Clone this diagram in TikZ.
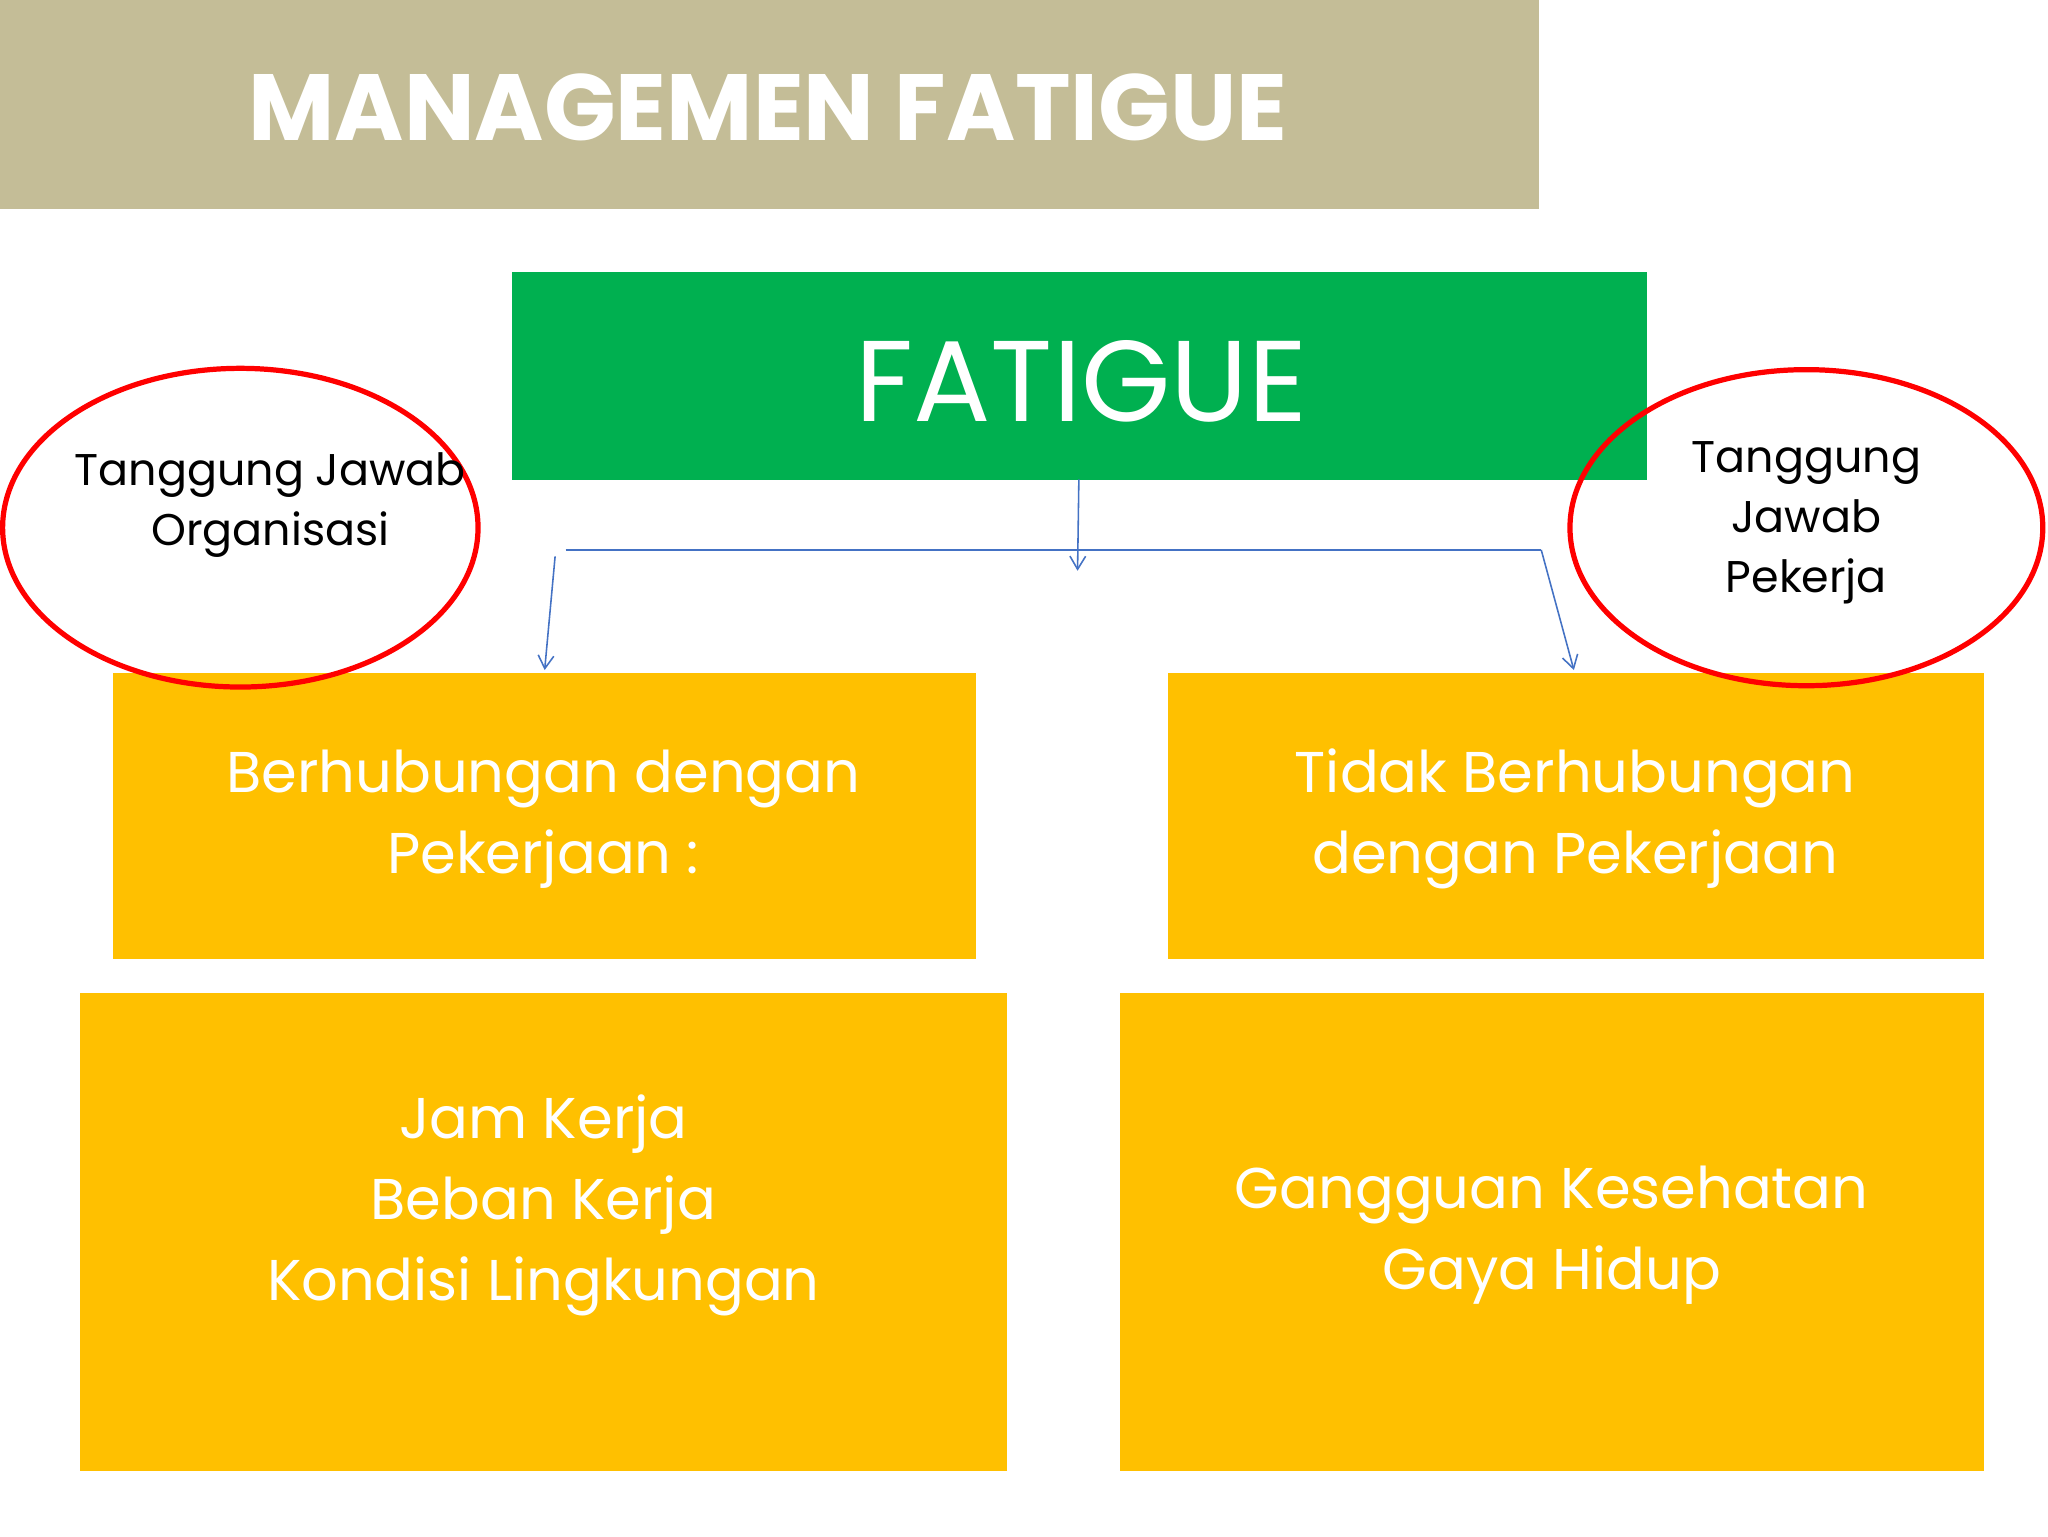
\documentclass[tikz,border=0pt]{standalone}
\usepackage{fontspec}
\setmainfont{Poppins}
\usetikzlibrary{arrows.meta}
\definecolor{tan}{RGB}{196,189,151}
\definecolor{grn}{RGB}{0,176,80}
\definecolor{org}{RGB}{255,192,0}
\definecolor{blu}{RGB}{68,114,196}
\begin{document}
\begin{tikzpicture}[x=1pt,y=-1pt,
 box/.style={fill=org,draw=none,text=white,align=center,font=\fontsize{44}{62}\selectfont},
 conn/.style={draw=blu,line width=1.2pt},
 arr/.style={conn,-{Straight Barb[length=10pt,width=12pt]}},
 oval/.style={draw=red,line width=4pt},
 otext/.style={align=center,font=\fontsize{34}{46}\selectfont}]
\useasboundingbox (0,0) rectangle (1568,1176);
\fill[white] (0,0) rectangle (1568,1176);
\node[fill=tan,minimum width=1178,minimum height=160,anchor=north west,inner sep=0] (title) at (0,0) {};
\node[text=white,font=\fontsize{72}{80}\selectfont\bfseries] (tt) at (588,82) {MANAGEMEN FATIGUE};
\node[fill=grn,minimum width=869,minimum height=159,anchor=north west,inner sep=0,text=white,font=\fontsize{88}{90}\selectfont] (fat) at (392,208) {};
\node[text=white,font=\fontsize{88}{90}\selectfont] at (828,292) {FATIGUE};
\node[box,minimum width=661,minimum height=219,anchor=north west,inner sep=0] (b1) at (86,515) {};
\node[box] at (416,627) {Berhubungan dengan\\Pekerjaan :};
\node[box,minimum width=625,minimum height=219,anchor=north west,inner sep=0] (b2) at (894,515) {};
\node[box] at (1206,627) {Tidak Berhubungan\\dengan Pekerjaan};
\node[box,minimum width=710,minimum height=366,anchor=north west,inner sep=0] (b3) at (61,760) {};
\node[box] at (416,923) {Jam Kerja\\Beban Kerja\\Kondisi Lingkungan};
\node[box,minimum width=662,minimum height=366,anchor=north west,inner sep=0] (b4) at (857,760) {};
\node[box] at (1188,946) {Gangguan Kesehatan\\Gaya Hidup};
\draw[oval] (184,404) ellipse [x radius=182,y radius=122];
\draw[oval] (1383,404) ellipse [x radius=181,y radius=121];
\node[otext] (o1) at (207,387) {Tanggung Jawab\\Organisasi};
\node[otext] (o2) at (1383,400) {Tanggung\\Jawab\\Pekerja};
\coordinate (h0) at (433,421);
\coordinate (h1) at (1180,421);
\coordinate (l0) at (425,426);
\coordinate (fb) at (826,367);
\draw[conn] (h0) -- (h1);
\draw[arr] (fb) -- (825,437);
\draw[arr] (l0) -- (417,513);
\draw[arr] (h1) -- (1205,513);
\end{tikzpicture}
\end{document}
